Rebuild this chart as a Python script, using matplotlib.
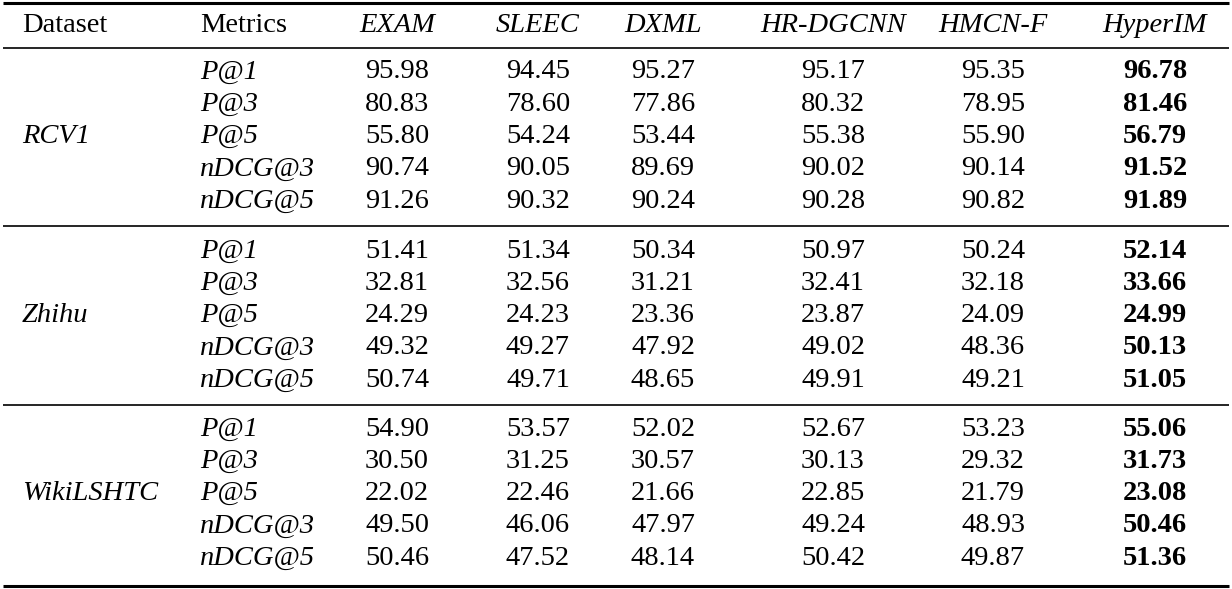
import matplotlib
matplotlib.use("Agg")
import matplotlib.pyplot as plt

datasets = ["RCV1", "Zhihu", "WikiLSHTC"]
metrics = ["P@1", "P@3", "P@5", "nDCG@3", "nDCG@5"]
methods = ["EXAM", "SLEEC", "DXML", "HR-DGCNN", "HMCN-F", "HyperIM"]
values = {
    "RCV1": [[95.98, 94.45, 95.27, 95.17, 95.35, 96.78],
             [80.83, 78.60, 77.86, 80.32, 78.95, 81.46],
             [55.80, 54.24, 53.44, 55.38, 55.90, 56.79],
             [90.74, 90.05, 89.69, 90.02, 90.14, 91.52],
             [91.26, 90.32, 90.24, 90.28, 90.82, 91.89]],
    "Zhihu": [[51.41, 51.34, 50.34, 50.97, 50.24, 52.14],
              [32.81, 32.56, 31.21, 32.41, 32.18, 33.66],
              [24.29, 24.23, 23.36, 23.87, 24.09, 24.99],
              [49.32, 49.27, 47.92, 49.02, 48.36, 50.13],
              [50.74, 49.71, 48.65, 49.91, 49.21, 51.05]],
    "WikiLSHTC": [[54.90, 53.57, 52.02, 52.67, 53.23, 55.06],
                  [30.50, 31.25, 30.57, 30.13, 29.32, 31.73],
                  [22.02, 22.46, 21.66, 22.85, 21.79, 23.08],
                  [49.50, 46.06, 47.97, 49.24, 48.93, 50.46],
                  [50.46, 47.52, 48.14, 50.42, 49.87, 51.36]],
}

W, H = 1232, 589
fig = plt.figure(figsize=(W/100, H/100), dpi=100)
ax = fig.add_axes([0, 0, 1, 1])
ax.set_xlim(0, W); ax.set_ylim(H, 0); ax.axis("off")
font = ["Liberation Serif", "DejaVu Serif"]
fs = 20.5
colx = [397, 538, 663, 833, 993, 1155]

def hline(y, lw):
    ax.plot([3, W-3], [y, y], color="black", lw=lw, solid_capstyle="butt")

hline(2.5, 2.2)
hline(48, 1.2)
ax.text(22, 25, "Dataset", family=font, fontsize=fs, va="center", ha="left")
ax.text(200, 25, "Metrics", family=font, fontsize=fs, va="center", ha="left")
for x, m in zip(colx, methods):
    ax.text(x, 25, m, family=font, fontsize=fs, style="italic", va="center", ha="center")

row_y0 = [72, 251, 429]
step = 32.3
for bi, d in enumerate(datasets):
    ys = [row_y0[bi] + i*step for i in range(5)]
    ax.text(22, ys[2], d, family=font, fontsize=fs, style="italic", va="center", ha="left")
    for ri, (m, y) in enumerate(zip(metrics, ys)):
        ax.text(200, y, m, family=font, fontsize=fs, style="italic", va="center", ha="left")
        row = values[d][ri]
        best = max(row)
        for x, v in zip(colx, row):
            ax.text(x, y, f"{v:.2f}", family=font, fontsize=fs, va="center", ha="center",
                    weight="bold" if v == best else "normal")
    if bi < 2:
        hline(ys[-1] + 25, 1.2)
hline(586, 2.2)
fig.savefig("out.png", dpi=100)
